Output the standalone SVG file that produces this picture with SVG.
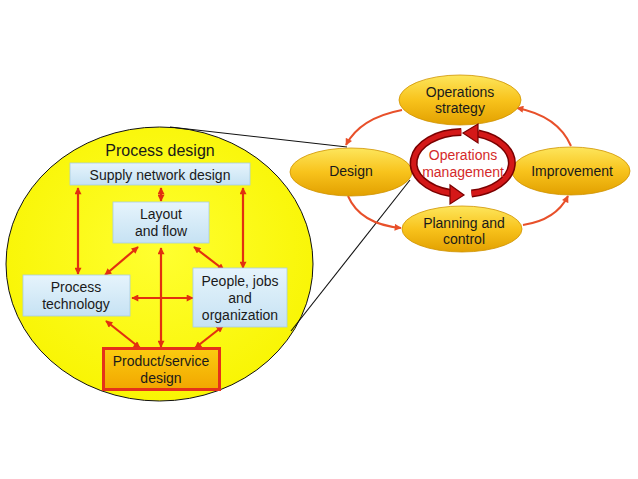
<svg xmlns="http://www.w3.org/2000/svg" width="638" height="479" viewBox="0 0 638 479">
<defs>
<linearGradient id="gold" x1="0" y1="0" x2="0" y2="1">
<stop offset="0" stop-color="#fde65c"/>
<stop offset="0.5" stop-color="#f8c31c"/>
<stop offset="1" stop-color="#e2a000"/>
</linearGradient>
<linearGradient id="blue" x1="0" y1="0" x2="0" y2="1">
<stop offset="0" stop-color="#e6f4fc"/>
<stop offset="1" stop-color="#c6e2f3"/>
</linearGradient>
<linearGradient id="orange" x1="0" y1="0" x2="0" y2="1">
<stop offset="0" stop-color="#fbcc10"/>
<stop offset="1" stop-color="#f2a600"/>
</linearGradient>
<radialGradient id="yel" cx="0.5" cy="0.45" r="0.6">
<stop offset="0" stop-color="#ffff30"/>
<stop offset="1" stop-color="#f8f400"/>
</radialGradient>
<marker id="ah" viewBox="0 0 10 10" refX="9" refY="5" markerWidth="8" markerHeight="7" markerUnits="userSpaceOnUse" orient="auto-start-reverse">
<path d="M0,0 L10,5 L0,10 z" fill="#e2300f"/>
</marker>
<marker id="ah2" viewBox="0 0 10 10" refX="9" refY="5" markerWidth="8" markerHeight="7" markerUnits="userSpaceOnUse" orient="auto">
<path d="M0,0 L10,5 L0,10 z" fill="#e8502a"/>
</marker>
<style>
.t{font-family:"Liberation Sans",Arial,sans-serif;font-size:14px;fill:#1a1a1a;text-anchor:middle}
.box{fill:url(#blue);stroke:#a8cce2;stroke-width:0.8}
.ell{fill:url(#gold);stroke:#cf9300;stroke-width:0.8}
.la{stroke:#e2300f;stroke-width:2.2;fill:none;marker-start:url(#ah);marker-end:url(#ah)}
.ra{stroke:#e8502a;stroke-width:2;fill:none;marker-end:url(#ah2)}
</style>
</defs>
<rect width="638" height="479" fill="#ffffff"/>

<g id="process-design">
<ellipse cx="159.5" cy="264" rx="153.5" ry="137" fill="url(#yel)" stroke="#111" stroke-width="1"/>
<text class="t" x="160" y="156" style="font-size:16px">Process design</text>
</g>

<g id="zoom-lines" stroke="#111" stroke-width="1.1" fill="none">
<line x1="170" y1="127" x2="347" y2="147"/>
<line x1="410" y1="180" x2="291" y2="331"/>
</g>

<g id="connectors">
<line class="la" x1="78" y1="188" x2="78" y2="274"/>
<line class="la" x1="161" y1="188" x2="161" y2="201"/>
<line class="la" x1="243" y1="188" x2="243" y2="268"/>
<line class="la" x1="138" y1="247" x2="105" y2="275"/>
<line class="la" x1="194" y1="247" x2="224" y2="270"/>
<line class="la" x1="161" y1="248" x2="161" y2="347"/>
<line class="la" x1="132" y1="298" x2="193" y2="298"/>
<line class="la" x1="106" y1="321" x2="140" y2="348"/>
<line class="la" x1="223" y1="326" x2="195" y2="348"/>
<path class="ra" d="M402,110 Q360,118 346,145"/>
<path class="ra" d="M348,196 Q360,224 401,228"/>
<path class="ra" d="M523,225 Q556,220 568,196"/>
<path class="ra" d="M571,146 Q558,116 517,108"/>
</g>

<g id="supply-network-design">
<rect class="box" x="70" y="163" width="180" height="22"/>
<text class="t" x="160" y="180">Supply network design</text>
</g>
<g id="layout-and-flow">
<rect class="box" x="113" y="202" width="96" height="41"/>
<text class="t" x="161" y="219">Layout</text>
<text class="t" x="161" y="236">and flow</text>
</g>
<g id="process-technology">
<rect class="box" x="23" y="275" width="107" height="41"/>
<text class="t" x="76" y="292">Process</text>
<text class="t" x="76" y="309">technology</text>
</g>
<g id="people-jobs-organization">
<rect class="box" x="193" y="268" width="94" height="59"/>
<text class="t" x="240" y="286">People, jobs</text>
<text class="t" x="240" y="303">and</text>
<text class="t" x="240" y="320">organization</text>
</g>
<g id="product-service-design">
<rect x="103.5" y="348.5" width="116" height="41" fill="url(#orange)" stroke="#e5311a" stroke-width="3"/>
<text class="t" x="161" y="366">Product/service</text>
<text class="t" x="161" y="383">design</text>
</g>

<g id="operations-strategy">
<ellipse class="ell" cx="460" cy="100" rx="61" ry="25"/>
<text class="t" x="460" y="97">Operations</text>
<text class="t" x="460" y="113">strategy</text>
</g>
<g id="design">
<ellipse class="ell" cx="351" cy="172" rx="61" ry="24" stroke="#333"/>
<text class="t" x="351" y="176">Design</text>
</g>
<g id="improvement">
<ellipse class="ell" cx="571" cy="171" rx="59" ry="24"/>
<text class="t" x="572" y="176">Improvement</text>
</g>
<g id="planning-and-control">
<ellipse class="ell" cx="462" cy="229" rx="60" ry="23"/>
<text class="t" x="464" y="228">Planning and</text>
<text class="t" x="464" y="244">control</text>
</g>

<g id="operations-management">
<path d="M461.3,132 A49,31 0 0 0 450.3,193" fill="none" stroke="#7a0000" stroke-width="8"/>
<path d="M461.3,132 A49,31 0 0 0 450.3,193" fill="none" stroke="#d41818" stroke-width="5"/>
<polygon points="450,185 450,204 464,195" fill="#d41818" stroke="#7a0000" stroke-width="1.2"/>
<path d="M471.5,193.5 A49,31 0 0 0 478,133.5" fill="none" stroke="#7a0000" stroke-width="8"/>
<path d="M471.5,193.5 A49,31 0 0 0 478,133.5" fill="none" stroke="#d41818" stroke-width="5"/>
<polygon points="478,124 478,143 463,133" fill="#d41818" stroke="#7a0000" stroke-width="1.2"/>
<text class="t" x="463" y="160" style="fill:#d42a2a">Operations</text>
<text class="t" x="463" y="177" style="fill:#d42a2a">management</text>
</g>
</svg>
